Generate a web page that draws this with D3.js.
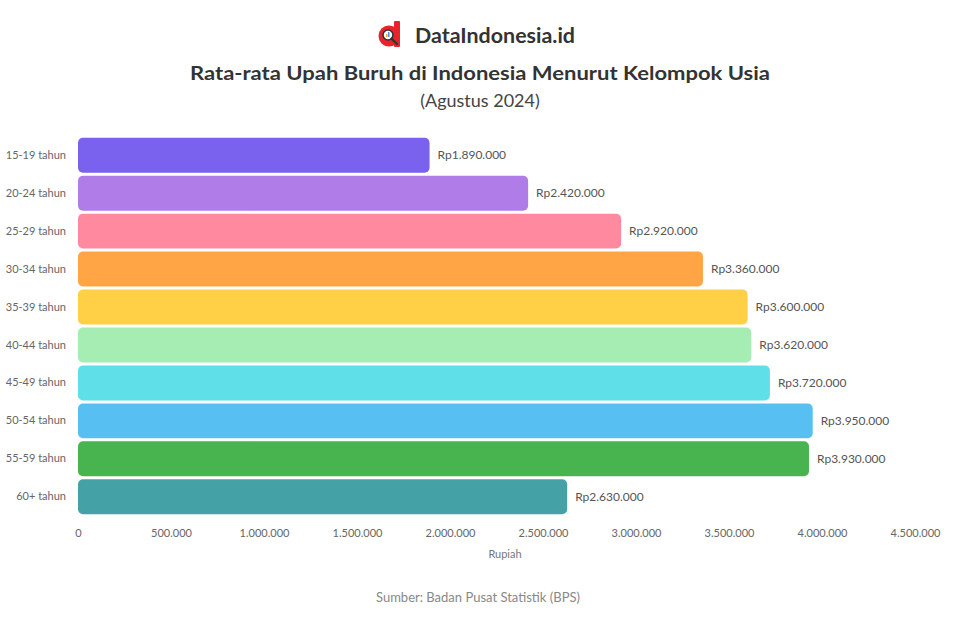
<!DOCTYPE html>
<html>
<head>
<meta charset="utf-8">
<script src="https://cdn.jsdelivr.net/npm/d3@7"></script>
<style>
  html, body { margin: 0; padding: 0; background: #fff; }
  svg { display: block; font-family: "Lato", "Noto Sans", sans-serif; }
</style>
</head>
<body>
<svg id="chart" width="960" height="620"></svg>
<script>
// ---- data ----
const categories = ["15-19 tahun", "20-24 tahun", "25-29 tahun", "30-34 tahun", "35-39 tahun",
                    "40-44 tahun", "45-49 tahun", "50-54 tahun", "55-59 tahun", "60+ tahun"];
const wages = [1890000, 2420000, 2920000, 3360000, 3600000, 3620000, 3720000, 3950000, 3930000, 2630000];
const barColors = ["#7a62ee", "#b07de8", "#ff8aa0", "#ffa545", "#ffd045", "#a6edb3", "#5fe0e8", "#57bff2", "#47b44f", "#44a1a6"];
const tickValues = [0, 500000, 1000000, 1500000, 2000000, 2500000, 3000000, 3500000, 4000000, 4500000];

const svg = d3.select("#chart");
const W = 960, H = 620;
const margin = { left: 78, right: 45, top: 137, bottom: 105 };

const fmt = v => "Rp" + d3.format(",")(v).replace(/,/g, ".");
const fmtTick = v => v === 0 ? "0" : d3.format(",")(v).replace(/,/g, ".");

// ---- header ----
const logo = svg.append("g").attr("transform", "translate(389,35)");
logo.append("circle").attr("r", 10.5).attr("cx", 0).attr("cy", 1).attr("fill", "#e8232a");
logo.append("rect").attr("x", 5).attr("y", -14).attr("width", 6).attr("height", 26).attr("rx", 1).attr("fill", "#e8232a");
logo.append("circle").attr("r", 5).attr("cx", -1).attr("cy", 0).attr("fill", "#fff").attr("stroke", "#333").attr("stroke-width", 1.6);
logo.append("line").attr("x1", 2.5).attr("y1", 3.5).attr("x2", 8).attr("y2", 9).attr("stroke", "#333").attr("stroke-width", 2.2).attr("stroke-linecap", "round");
logo.append("rect").attr("x", -3).attr("y", -1).attr("width", 1.5).attr("height", 3).attr("fill", "#f5a623");
logo.append("rect").attr("x", -1).attr("y", -3).attr("width", 1.5).attr("height", 5).attr("fill", "#4a90e2");

svg.append("text").attr("x", 415).attr("y", 43)
  .attr("font-size", 21).attr("font-weight", 700).attr("fill", "#333")
  .attr("textLength", 160).attr("lengthAdjust", "spacingAndGlyphs")
  .text("DataIndonesia.id");

svg.append("text").attr("x", W / 2).attr("y", 80).attr("text-anchor", "middle")
  .attr("font-size", 19).attr("font-weight", 700).attr("fill", "#333")
  .attr("textLength", 580).attr("lengthAdjust", "spacingAndGlyphs")
  .text("Rata-rata Upah Buruh di Indonesia Menurut Kelompok Usia");

svg.append("text").attr("x", W / 2).attr("y", 107).attr("text-anchor", "middle")
  .attr("font-size", 18).attr("fill", "#444")
  .text("(Agustus 2024)");

// ---- scales ----
const x = d3.scaleLinear().domain([0, 4500000]).range([margin.left, 915]);
const y = d3.scaleBand().domain(categories).range([margin.top, H - margin.bottom]).paddingInner(0.08).paddingOuter(0.02);

// ---- bars ----
const g = svg.append("g");
g.selectAll("rect.bar").data(categories).join("rect")
  .attr("class", "bar")
  .attr("x", x(0))
  .attr("y", d => y(d))
  .attr("width", (d, i) => x(wages[i]) - x(0))
  .attr("height", y.bandwidth())
  .attr("rx", 5)
  .attr("fill", (d, i) => barColors[i]);

// value labels
g.selectAll("text.val").data(categories).join("text")
  .attr("class", "val")
  .attr("x", (d, i) => x(wages[i]) + 8)
  .attr("y", d => y(d) + y.bandwidth() / 2)
  .attr("dy", "0.35em")
  .attr("font-size", 12).attr("fill", "#555")
  .text((d, i) => fmt(wages[i]));

// ---- y axis ----
const yAxis = svg.append("g").attr("transform", `translate(${margin.left - 6},0)`)
  .call(d3.axisLeft(y).tickSize(0).tickPadding(6));
yAxis.select(".domain").remove();
yAxis.selectAll("text").attr("font-size", 11).attr("fill", "#666").attr("font-family", "Lato, sans-serif");

// ---- x axis ----
const xAxis = svg.append("g").attr("transform", `translate(0,${H - margin.bottom + 6})`)
  .call(d3.axisBottom(x).tickValues(tickValues).tickFormat(fmtTick).tickSize(0).tickPadding(8));
xAxis.select(".domain").remove();
xAxis.selectAll("text").attr("font-size", 11).attr("fill", "#666").attr("font-family", "Lato, sans-serif");

svg.append("text").attr("x", 505).attr("y", 558).attr("text-anchor", "middle")
  .attr("font-size", 11).attr("fill", "#777").text("Rupiah");

svg.append("text").attr("x", 478).attr("y", 602).attr("text-anchor", "middle")
  .attr("font-size", 13).attr("fill", "#888").text("Sumber: Badan Pusat Statistik (BPS)");
</script>
</body>
</html>
